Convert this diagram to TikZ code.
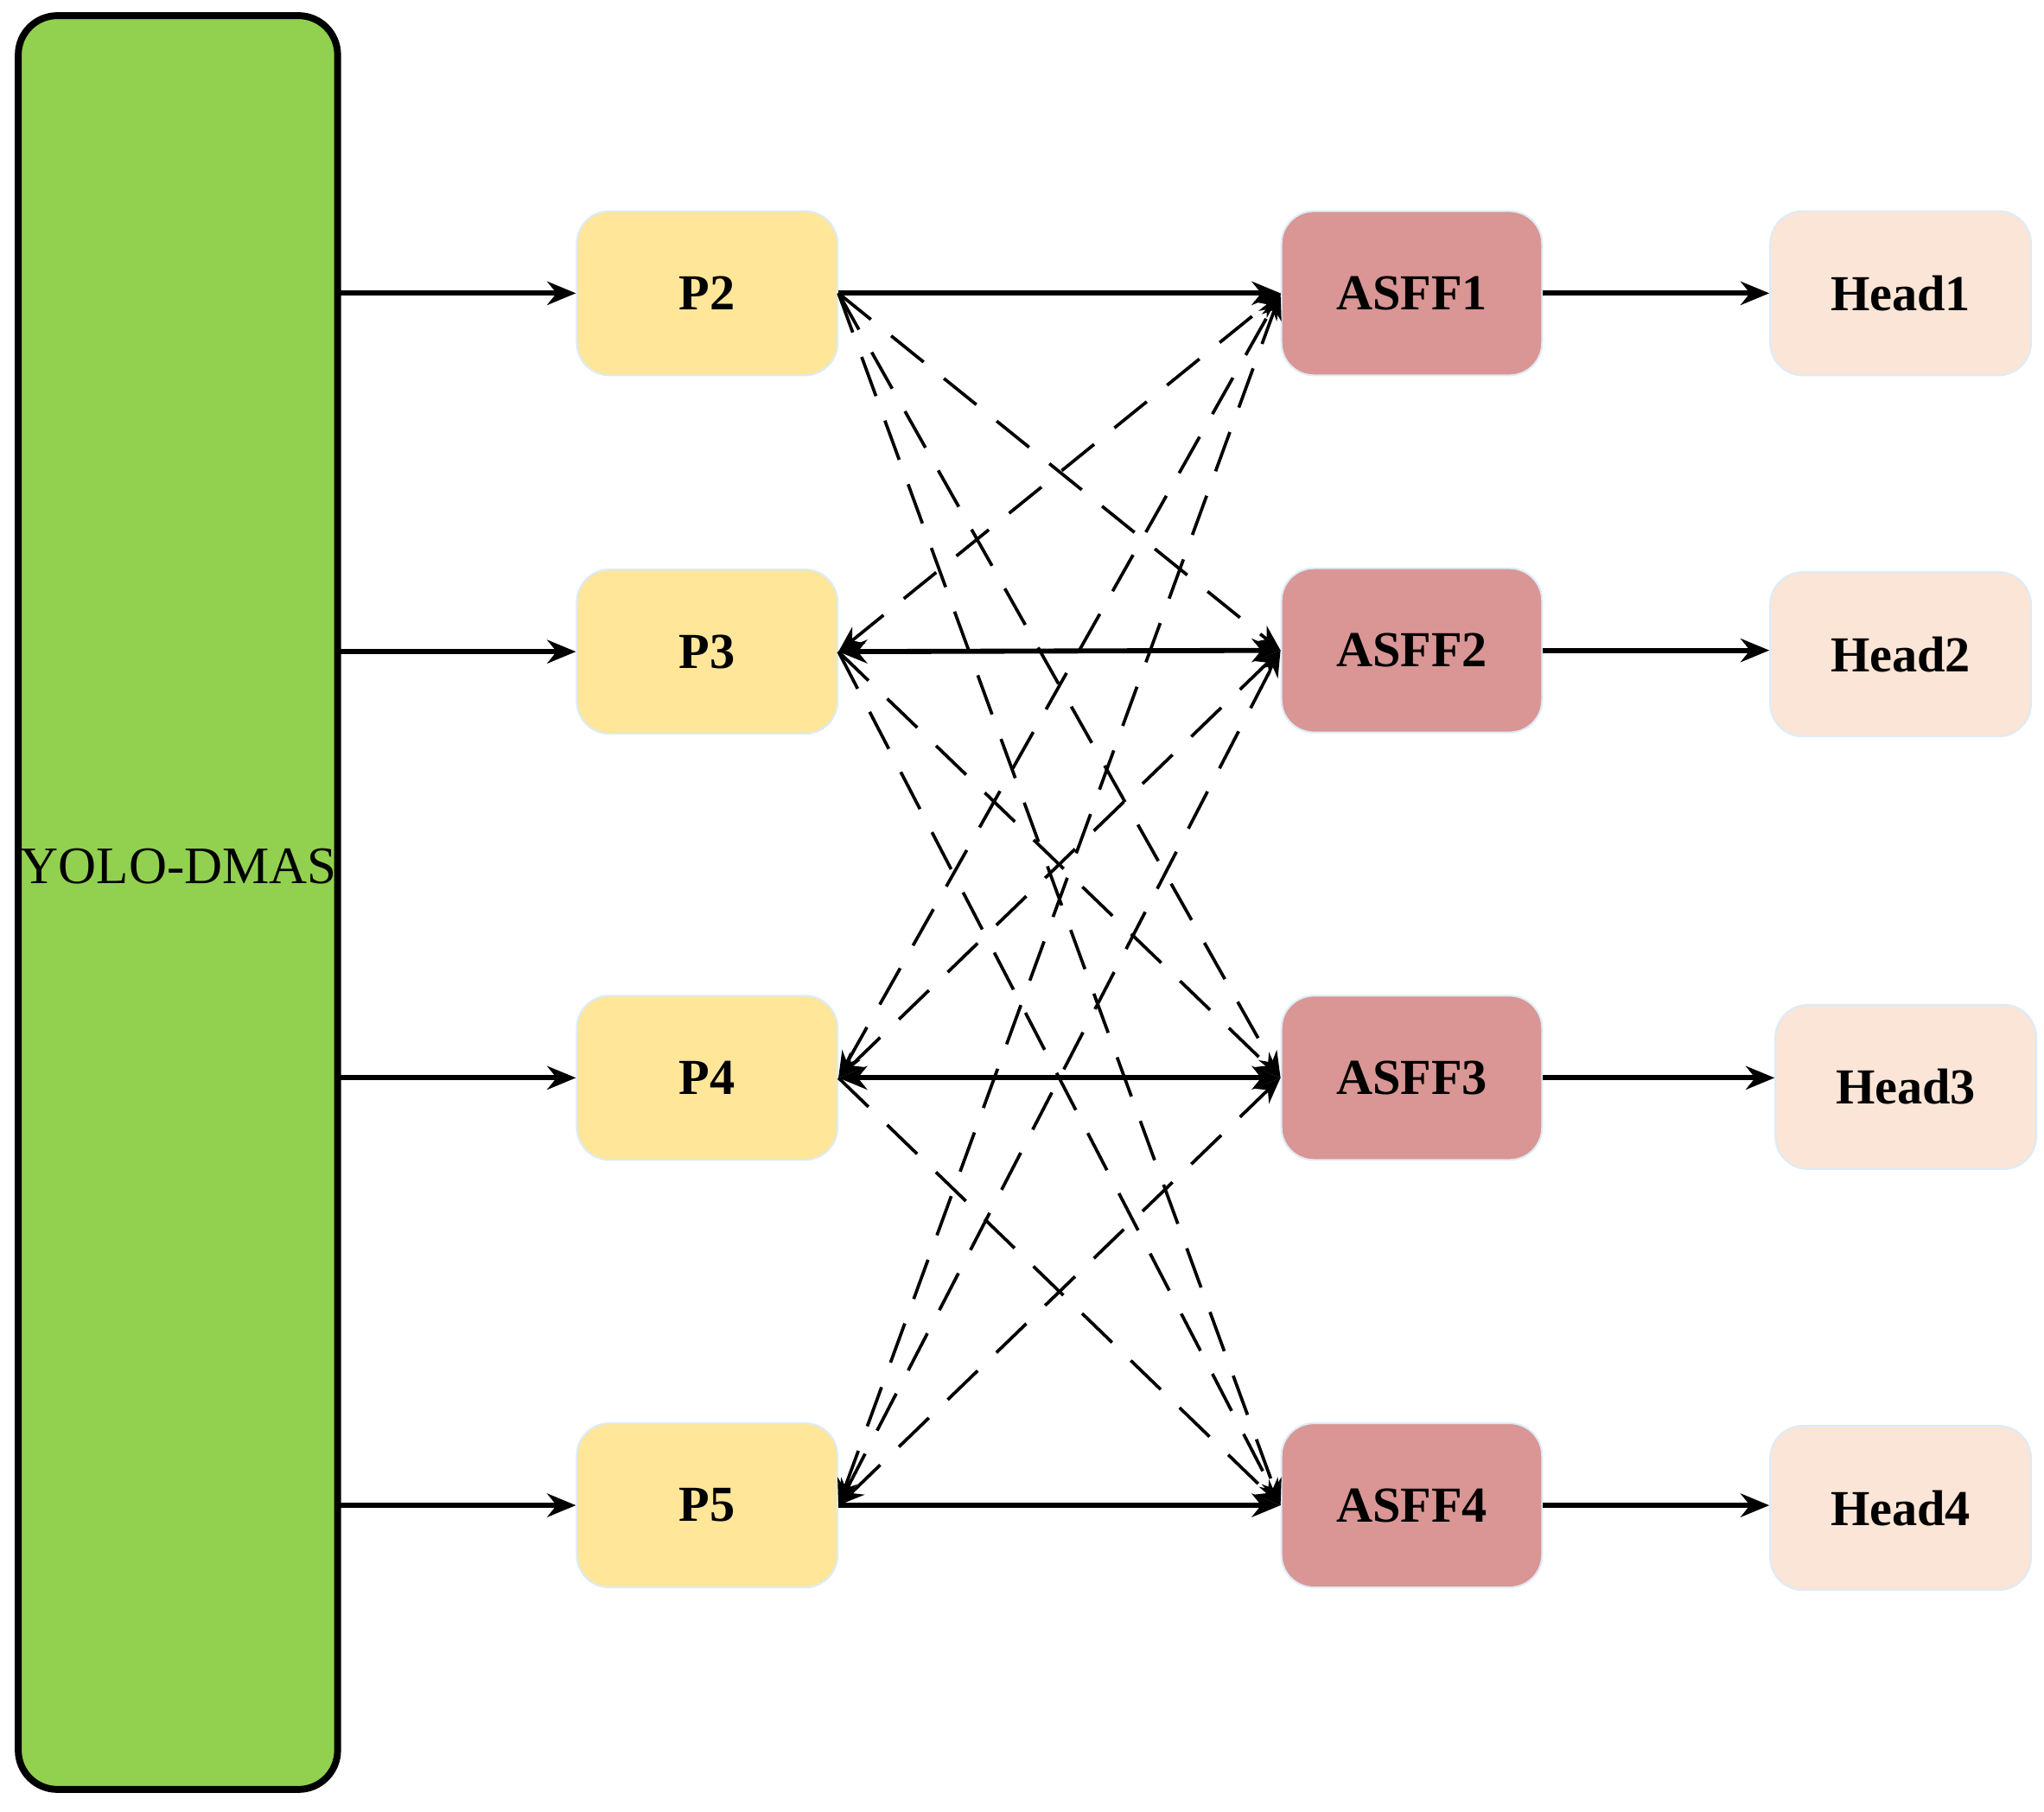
\documentclass[tikz,border=0pt]{standalone}
\usepackage{fontspec}
\setmainfont{Liberation Serif}
\usetikzlibrary{arrows.meta}
\definecolor{grn}{HTML}{92D050}
\definecolor{pyel}{HTML}{FFE699}
\definecolor{asf}{HTML}{D99694}
\definecolor{hd}{HTML}{FBE5D6}
\definecolor{edge}{HTML}{DDEBF7}
\begin{document}
\begin{tikzpicture}[x=0.1mm,y=-0.1mm,
  box/.style={rounded corners=2.5mm,draw=edge,line width=0.4pt,minimum width=20mm,minimum height=12.6mm,font=\fontsize{11}{13}\selectfont\bfseries},
  sol/.style={line width=1.1pt,-{Stealth[length=2.2mm,width=1.8mm]}},
  dsh/.style={line width=0.7pt,dash pattern=on 3.2mm off 2mm,-{Stealth[length=2mm,width=1.6mm]}},
  dshr/.style={line width=0.7pt,dash pattern=on 3.2mm off 2mm,{Stealth[length=2mm,width=1.6mm]}-{Stealth[length=2mm,width=1.6mm]}}]
\useasboundingbox (0,0) rectangle (1568,1390);
\node[draw=black,line width=1.5pt,fill=grn,rounded corners=3mm,minimum width=24.5mm,minimum height=136.1mm,inner sep=0pt] (y) at (136.5,692.5) {};
\node (yt) at (137,665) {\fontsize{11.5}{13}\selectfont YOLO-DMAS};
\foreach \i/\yy in {2/225,3/500,4/827,5/1155}{
  \node[box,fill=pyel] (p\i) at (542.5,\yy) {P\i};
  \coordinate (g\i) at (259,\yy);
  \draw[sol] (g\i) -- (p\i.west);
}
\foreach \j/\yy in {1/225,2/499,3/827,4/1155}{
  \node[box,fill=asf] (a\j) at (1083,\yy) {ASFF\j};
}
\node[box,fill=hd] (h1) at (1458,225) {Head1};
\node[box,fill=hd] (h2) at (1458,502) {Head2};
\node[box,fill=hd] (h3) at (1462,834) {Head3};
\node[box,fill=hd] (h4) at (1458,1157) {Head4};
\draw[sol] (p2.east) -- (a1.west);
\draw[sol,{Stealth[length=2.2mm,width=1.8mm]}-{Stealth[length=2.2mm,width=1.8mm]}] (p3.east) -- (a2.west);
\draw[sol,{Stealth[length=2.2mm,width=1.8mm]}-{Stealth[length=2.2mm,width=1.8mm]}] (p4.east) -- (a3.west);
\draw[sol] (p5.east) -- (a4.west);
\foreach \j in {1,...,4}{\draw[sol] (a\j.east) -- (h\j.west |- a\j.east);}
\foreach \i/\j in {2/2,2/3,2/4,3/3,3/4,4/4}{\draw[dsh] (p\i.east) -- (a\j.west);}
\foreach \i/\j in {3/1,4/1,4/2,5/1,5/2,5/3}{\draw[dshr] (p\i.east) -- (a\j.west);}
\end{tikzpicture}
\end{document}
